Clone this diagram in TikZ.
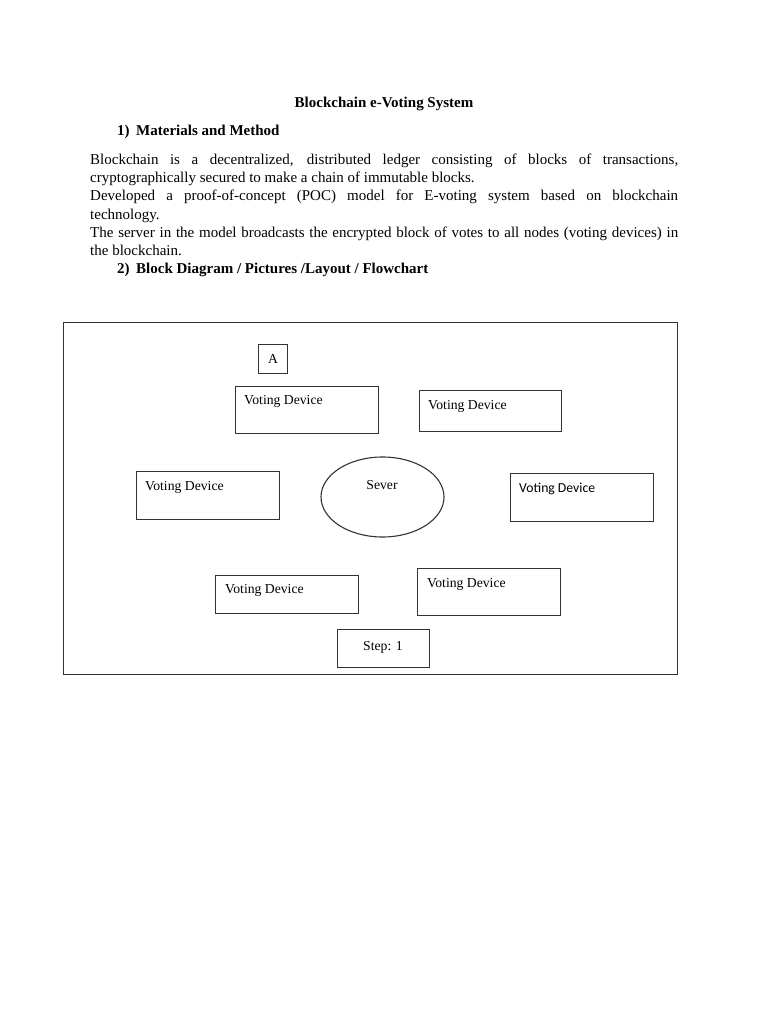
\documentclass[tikz,border=0pt]{standalone}
\usepackage{fontspec}
\setmainfont{Liberation Serif}
\newfontfamily\sansvd{Carlito}
\usetikzlibrary{shapes.geometric,calc}
\begin{document}
\begin{tikzpicture}[x=1pt,y=-1pt,
  txt/.style={anchor=base west,inner sep=0pt,font=\fontsize{15}{18}\selectfont},
  btxt/.style={anchor=base west,inner sep=0pt,font=\fontsize{15}{18}\selectfont\bfseries},
  dtxt/.style={anchor=base west,inner sep=0pt,font=\fontsize{13.7}{16}\selectfont},
  vbox/.style={draw=black!80,line width=1.1pt,anchor=north west,inner sep=0pt},
]
\useasboundingbox[fill=white] (0,0) rectangle (768,1024);
% header text
\node[btxt,anchor=base] (title) at (384,108) {Blockchain e-Voting System};
\node[btxt] (n1) at (117,136) {1)};
\node[btxt] (h1) at (136,136) {Materials and Method};
\node[txt] (l1) at (90,165) {\makebox[588pt][s]{Blockchain is a decentralized, distributed ledger consisting of blocks of transactions,}};
\node[txt] (l2) at (90,183) {cryptographically secured to make a chain of immutable blocks.};
\node[txt] (l3) at (90,201) {\makebox[588pt][s]{Developed a proof-of-concept (POC) model for E-voting system based on blockchain}};
\node[txt] (l4) at (90,219) {technology.};
\node[txt] (l5) at (90,237) {\makebox[588pt][s]{The server in the model broadcasts the encrypted block of votes to all nodes (voting devices) in}};
\node[txt] (l6) at (90,255) {the blockchain.};
\node[btxt] (n2) at (117,273) {2)};
\node[btxt] (h2) at (136,273) {Block Diagram / Pictures /Layout / Flowchart};
% diagram frame
\node[vbox,minimum width=614pt,minimum height=352pt] (frame) at (63,322) {};
% box A
\node[vbox,minimum width=29pt,minimum height=29pt] (boxA) at (258,344) {};
\node[dtxt,anchor=base] (tA) at ($(boxA.center)+(0,4.5)$) {A};
% voting devices
\node[vbox,minimum width=143pt,minimum height=47pt] (vd1) at (235,386) {};
\node[dtxt] (t1) at ($(vd1.north west)+(9,18)$) {Voting Device};
\node[vbox,minimum width=142pt,minimum height=41pt] (vd2) at (419,390) {};
\node[dtxt] (t2) at ($(vd2.north west)+(9,19)$) {Voting Device};
\node[vbox,minimum width=143pt,minimum height=48pt] (vd3) at (136,471) {};
\node[dtxt] (t3) at ($(vd3.north west)+(9,19)$) {Voting Device};
\node[vbox,minimum width=143pt,minimum height=48pt] (vd4) at (510,473) {};
\node[dtxt,font=\sansvd\fontsize{13.7}{16}\selectfont] (t4) at ($(vd4.north west)+(9,19)$) {Voting Device};
\node[vbox,minimum width=143pt,minimum height=38pt] (vd5) at (215,575) {};
\node[dtxt] (t5) at ($(vd5.north west)+(10,18)$) {Voting Device};
\node[vbox,minimum width=143pt,minimum height=47pt] (vd6) at (417,568) {};
\node[dtxt] (t6) at ($(vd6.north west)+(10,19)$) {Voting Device};
% server
\node[draw=black!80,line width=1.1pt,ellipse,minimum width=123pt,minimum height=80pt,inner sep=0pt] (srv) at (382.5,497) {};
\node[dtxt,anchor=base] (ts) at (382,489) {Sever};
% step
\node[vbox,minimum width=92pt,minimum height=38pt] (step1) at (337,629) {};
\node[dtxt,anchor=base] (tstep) at (383,650) {Step: 1};
\end{tikzpicture}
\end{document}
